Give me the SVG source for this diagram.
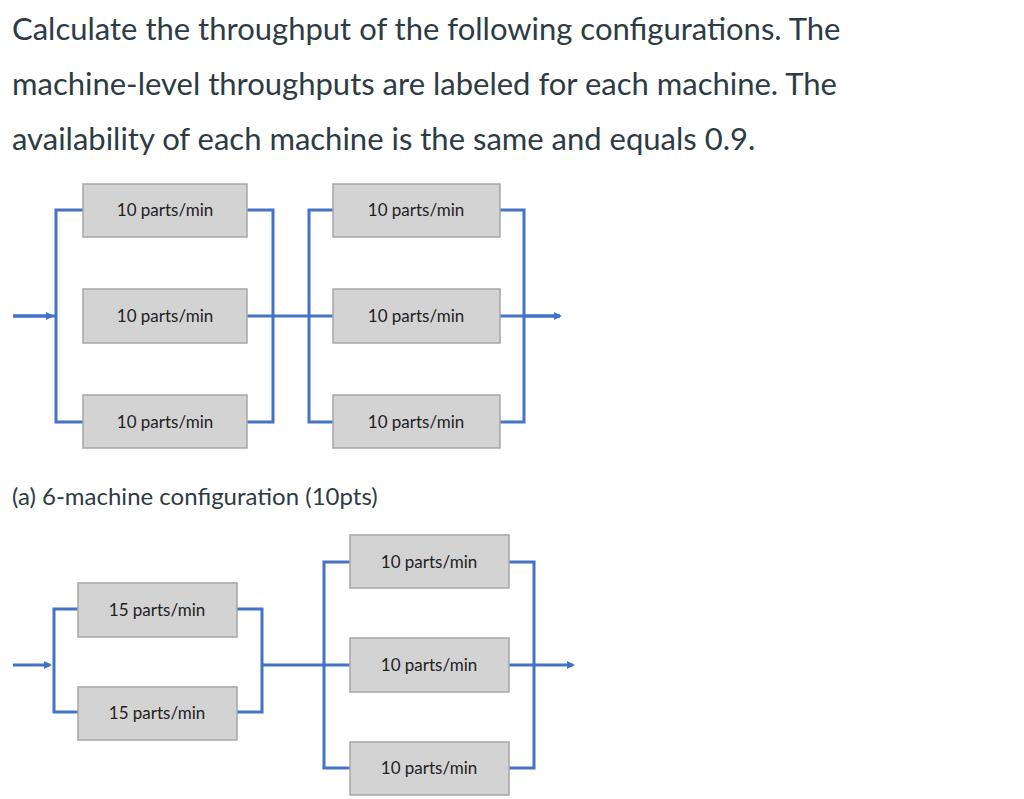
<svg xmlns="http://www.w3.org/2000/svg" width="1024" height="799" viewBox="0 0 1024 799">
<style>
.t{font-family:Lato,"Open Sans",sans-serif;fill:#2d3b45}
.b rect{fill:#d3d3d3;stroke:#a6a6a6;stroke-width:1.5}
.b text{font-family:Lato,"Noto Sans",sans-serif;font-size:17px;fill:#222;text-anchor:middle}
.c{fill:none;stroke:#4472c4;stroke-width:3}
</style>
<defs><marker id="a" markerWidth="8" markerHeight="8" refX="6" refY="4" orient="auto" markerUnits="userSpaceOnUse"><path d="M0,0 L8,4 L0,8z" fill="#4472c4"/></marker></defs>
<text class="t" x="12" y="40" font-size="31">Calculate the throughput of the following configurations. The</text>
<text class="t" x="12" y="95" font-size="31">machine-level throughputs are labeled for each machine. The</text>
<text class="t" x="12" y="150" font-size="31">availability of each machine is the same and equals 0.9.</text>
<text class="t" x="12" y="505" font-size="24">(a) 6-machine configuration (10pts)</text>
<g id="connectors">
<path class="c" d="M13,316 H56 M83,210 H56 V422 H83 M247,210 H273 V422 H247 M247,316 H333 M333,210 H309 V422 H333 M500,210 H524 V422 H500 M500,316 H560" />
<path class="c" d="M13,316 H52" marker-end="url(#a)"/>
<path class="c" d="M524,316 H560" marker-end="url(#a)"/>
<path class="c" d="M78,609 H54 V712 H78 M237,609 H262 V712 H237 M262,665 H350 M350,562 H324 V768 H350 M509,562 H534 V768 H509 M509,665 H534" />
<path class="c" d="M13,665 H50" marker-end="url(#a)"/>
<path class="c" d="M534,665 H573" marker-end="url(#a)"/>
</g>
<g id="a1" class="b"><rect x="83" y="184" width="164" height="53"/><text x="165" y="216">10 parts/min</text></g>
<g id="a2" class="b"><rect x="83" y="289" width="164" height="54"/><text x="165" y="322">10 parts/min</text></g>
<g id="a3" class="b"><rect x="83" y="395" width="164" height="53"/><text x="165" y="428">10 parts/min</text></g>
<g id="a4" class="b"><rect x="333" y="184" width="167" height="53"/><text x="416" y="216">10 parts/min</text></g>
<g id="a5" class="b"><rect x="333" y="289" width="167" height="54"/><text x="416" y="322">10 parts/min</text></g>
<g id="a6" class="b"><rect x="333" y="395" width="167" height="53"/><text x="416" y="428">10 parts/min</text></g>
<g id="b1" class="b"><rect x="78" y="583" width="159" height="54"/><text x="157" y="616">15 parts/min</text></g>
<g id="b2" class="b"><rect x="78" y="687" width="159" height="53"/><text x="157" y="719">15 parts/min</text></g>
<g id="b3" class="b"><rect x="350" y="535" width="159" height="53"/><text x="429" y="568">10 parts/min</text></g>
<g id="b4" class="b"><rect x="350" y="638" width="159" height="54"/><text x="429" y="671">10 parts/min</text></g>
<g id="b5" class="b"><rect x="350" y="742" width="159" height="53"/><text x="429" y="774">10 parts/min</text></g>
</svg>
